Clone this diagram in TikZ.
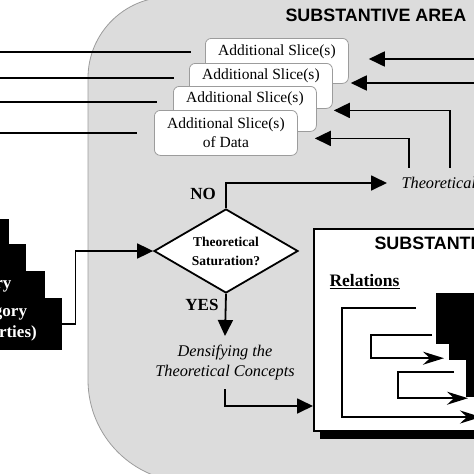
\documentclass[tikz,border=0pt]{standalone}
\usepackage{fontspec}
\setmainfont{Liberation Serif}
\setsansfont{Liberation Sans}
\usetikzlibrary{arrows.meta,shapes.geometric,shadows,positioning}
\definecolor{areagray}{HTML}{DCDCDC}
\definecolor{edgegray}{HTML}{9C9C9C}

\tikzset{
  slice/.style={draw=edgegray, fill=white, rounded corners=6pt, line width=0.8pt,
    minimum width=143pt, minimum height=45pt, anchor=north west,
    font=\fontsize{15.5}{19}\selectfont, align=center},
  slicetext/.style={font=\fontsize{15.5}{19}\selectfont},
  plain/.style={line width=1.8pt},
  flow/.style={line width=1.8pt, -{Triangle[length=16pt,width=15pt]}},
  rel/.style={line width=1.8pt, -{Stealth[length=21pt,width=13pt,inset=7pt]}},
  catbox/.style={fill=black, anchor=north west, inner sep=0pt},
  cattext/.style={text=white, font=\bfseries\fontsize{17}{21}\selectfont},
  relbox/.style={fill=black, anchor=north west, inner sep=0pt},
  decision/.style={diamond, draw, fill=white, line width=1.8pt, aspect=1.714,
    minimum width=144pt, minimum height=84pt, inner sep=0pt, align=center,
    font=\bfseries\fontsize{13.5}{19}\selectfont},
  answer/.style={font=\bfseries\fontsize{17}{20}\selectfont},
  concept/.style={font=\itshape\fontsize{16.3}{20}\selectfont, align=center},
  heading/.style={font=\sffamily\bfseries\fontsize{17.9}{21}\selectfont, anchor=west},
  theorybox/.style={draw, fill=white, line width=2pt, anchor=north west,
    minimum width=260pt, minimum height=202pt,
    drop shadow={shadow xshift=6pt, shadow yshift=-8pt, fill=black, opacity=1}},
}

\begin{document}
\begin{tikzpicture}[x=1pt,y=1pt]
\useasboundingbox (0,0) rectangle (474,-474);
\clip (0,0) rectangle (474,-474);

% substantive area
\draw[fill=areagray, draw=edgegray, line width=0.8pt] (600,3) -- (169,3)
  arc[start angle=90, end angle=180, radius=81] -- (88,-380)
  arc[start angle=180, end angle=270, radius=102] -- (600,-482) -- cycle;
\node[heading] (area) at (282,-15) {SUBSTANTIVE AREA};

% slices of data
\node[slice] (s1) at (205,-38) {};
\node[slicetext] (t1) at ([yshift=-14pt]s1.north) {Additional Slice(s)};
\node[slice] (s2) at (189,-63) {};
\node[slicetext] (t2) at ([yshift=-13pt]s2.north) {Additional Slice(s)};
\node[slice] (s3) at (173,-86) {};
\node[slicetext] (t3) at ([yshift=-13pt]s3.north) {Additional Slice(s)};
\node[slice] (s4) at (154,-110) {Additional Slice(s)\\of Data};

% lines coming in from the left
\coordinate (in1) at (-5,-52);
\coordinate (in2) at (-5,-78);
\coordinate (in3) at (-5,-102);
\coordinate (in4) at (-5,-133);
\draw[plain] (in1) -- ([xshift=-14pt]s1.west |- in1);
\draw[plain] (in2) -- ([xshift=-15pt]s2.west |- in2);
\draw[plain] (in3) -- ([xshift=-16pt]s3.west |- in3);
\draw[plain] (in4) -- ([xshift=-17pt]s4.west |- in4);

% feedback from the right
\node[concept, anchor=west] (theo) at (398,-183) {Theoretical};
\coordinate (fb1) at (480,-59);
\coordinate (fb2) at (480,-83);
\draw[flow] (fb1) -- ([xshift=20pt]s1.east |- fb1);
\draw[flow] (fb2) -- ([xshift=18pt]s2.east |- fb2);
\draw[flow] ([xshift=52pt,yshift=6pt]theo.north west) |- ([xshift=17pt,yshift=-1.5pt]s3.east);
\draw[flow] ([xshift=11pt,yshift=6pt]theo.north west) |- ([xshift=17pt,yshift=-5.5pt]s4.east);

% categories
\node[catbox, minimum width=39pt, minimum height=131pt] (cat1) at (-30,-219) {};
\node[catbox, minimum width=56pt, minimum height=106pt] (cat2) at (-30,-244) {};
\node[catbox, minimum width=75pt, minimum height=79pt] (cat3) at (-30,-271) {};
\node[catbox, minimum width=92pt, minimum height=52pt] (cat4) at (-30,-298) {};
\node[cattext, anchor=east] (cat3text) at (15,-285) {Category};
\node[cattext, align=center] (cat4text) at (-6.5,-323.5) {Category\\(Properties)};

% saturation test
\node[decision] (dia) at (226,-251) {Theoretical\\Saturation?};
\draw[flow] (cat4.east) -- ++(13,0) |- (dia.west);
\node[answer] (no) at (203,-194) {NO};
\draw[flow] (dia.north) |- ([xshift=-11pt]theo.west);
\node[answer] (yes) at (202,-305) {YES};
\node[concept] (dens) at (225,-362) {Densifying the\\Theoretical Concepts};
\draw[flow] (dia.south) -- ([yshift=5pt]dens.north);

% substantive theory
\node[theorybox] (sub) at (313,-228) {};
\draw[flow] ([yshift=-6pt]dens.south) |- ([yshift=-76pt]sub.west);
\node[heading] (subhead) at (371,-243) {SUBSTANTIVE};
\node[font=\bfseries\fontsize{17.5}{20}\selectfont, anchor=west] (relhead) at (326,-282) {\underline{Relations}};

\node[relbox, minimum width=140pt, minimum height=51pt] (relA) at (436,-293) {};
\node[relbox, minimum width=130pt, minimum height=42pt] (relB) at (449,-318) {};
\node[relbox, minimum width=120pt, minimum height=52pt] (relC) at (466,-345) {};

\coordinate (r1) at (416,-308);
\coordinate (r1e) at (481,-417);
\coordinate (r2) at (432,-335);
\coordinate (r3) at (454,-372);
\draw[rel] (r1) -- ++(-74,0) |- (r1e);
\draw[rel] (r2) -- ++(-61,0) |- ([xshift=-5pt,yshift=-19pt]relB.west);
\draw[rel] (r3) -- ++(-56,0) |- ([xshift=2pt,yshift=-27pt]relC.west);

\end{tikzpicture}
\end{document}
